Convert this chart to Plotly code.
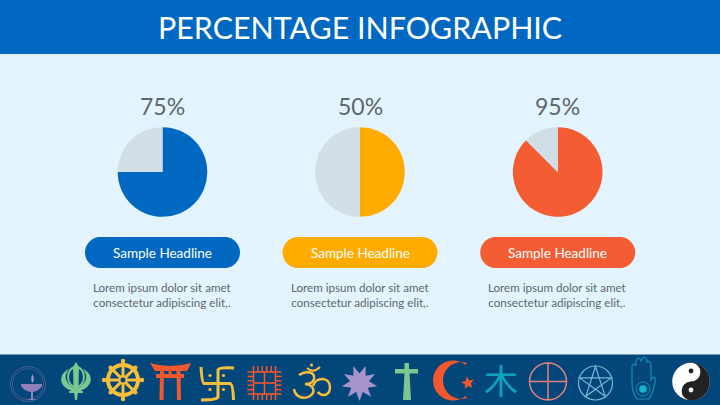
#!/usr/bin/env python
import math
import plotly.graph_objects as go

# chart data
pct_labels = ["75%", "50%", "95%"]
filled_values = [75, 50, 87.5]
rest_values = [25, 50, 12.5]
slice_colors = ["#0068C1", "#FFAB00", "#F45D33"]
headlines = ["Sample Headline", "Sample Headline", "Sample Headline"]
body_text = "Lorem ipsum dolor sit amet<br>consectetur adipiscing elit,."
title_text = "PERCENTAGE INFOGRAPHIC"

W, H = 720, 405
BG = "#E3F4FE"
HEADER = "#0068C1"
FOOTER = "#03477A"
GREY = "#D1DEE6"
TEXT = "#5E666C"
YELLOW = "#F6BE3B"
RED = "#F2572D"
GREEN = "#7CC68F"
PURPLE = "#A694CC"

column_x = [162.5, 360, 557.7]
PIE_Y, PIE_R = 172, 44.8

shapes = []


def rect(x0, y0, x1, y1, fill):
    shapes.append(dict(type="rect", x0=x0, y0=y0, x1=x1, y1=y1, fillcolor=fill,
                       line=dict(width=0), xref="x", yref="y", layer="below"))


def circle(cx, cy, r, fill=None, line=None, width=0):
    shapes.append(dict(type="circle", x0=cx - r, y0=cy - r, x1=cx + r, y1=cy + r,
                       fillcolor=fill or "rgba(0,0,0,0)",
                       line=dict(width=width, color=line or "rgba(0,0,0,0)"),
                       xref="x", yref="y", layer="below"))


def path(d, fill=None, line=None, width=0):
    shapes.append(dict(type="path", path=d, fillcolor=fill or "rgba(0,0,0,0)",
                       line=dict(width=width, color=line or "rgba(0,0,0,0)"),
                       xref="x", yref="y", layer="below"))


def poly(pts, close=True):
    d = "M " + " L ".join(f"{x:.2f},{y:.2f}" for x, y in pts)
    return d + (" Z" if close else "")


def arc_pts(cx, cy, r, start, end, step=6):
    n = max(2, int(abs(end - start) / step))
    return [(cx + r * math.cos(math.radians(start + (end - start) * i / n)),
             cy + r * math.sin(math.radians(start + (end - start) * i / n)))
            for i in range(n + 1)]


def star_pts(cx, cy, r_out, r_in, n, start):
    pts = []
    for i in range(n * 2):
        r = r_out if i % 2 == 0 else r_in
        a = math.radians(start + i * 180 / n)
        pts.append((cx + r * math.cos(a), cy + r * math.sin(a)))
    return pts


def pill(x0, y0, x1, y1, fill):
    r = (y1 - y0) / 2
    cy = (y0 + y1) / 2
    path(poly(arc_pts(x1 - r, cy, r, -90, 90) + arc_pts(x0 + r, cy, r, 90, 270)), fill=fill)


# page blocks
rect(0, 0, W, H, BG)
rect(0, 0, W, 54, HEADER)
rect(0, 354.5, W, H, FOOTER)

# headline pills
for cx, col in zip(column_x, slice_colors):
    pill(cx - 77.5, 237, cx + 77.5, 268, col)

# footer icons, left to right
# chalice
circle(28, 384, 17.5, line="#4F5F90", width=1)
circle(28, 384, 15.5, line="#4F5F90", width=0.8)
path("M 21,384 L 42,384 L 42,386 Q 39,391 33,392 L 33,399 L 38,400 L 26,400 L 31,399 L 31,392 "
     "Q 24,391 21,386 Z", fill="#8E80B8")
path("M 32.5,374 Q 35,380 32.5,383 Q 30,380 32.5,374 Z", fill="#A79BCB")

# khanda
path("M 69,369 C 58,374 59,386 70,390 L 76,394 L 82,390 C 93,386 94,374 83,369 "
     "C 89,376 87,384 76,389 C 65,384 63,376 69,369 Z", fill=GREEN)
shapes.append(dict(type="circle", x0=68, y0=367, x1=84, y1=387, fillcolor="rgba(0,0,0,0)",
                   line=dict(width=2, color=GREEN), xref="x", yref="y", layer="below"))
path("M 76,362 L 79,367 L 78.5,388 L 77,400 L 75,400 L 73.5,388 L 73,367 Z", fill=GREEN)
path("M 69,392 L 83,392", line=GREEN, width=2)

# dharma wheel
circle(123, 380, 15, line=YELLOW, width=4)
for i in range(8):
    a = math.radians(i * 45)
    r_end = 19 if i % 2 == 0 else 17.5
    path(poly([(123 + 4 * math.cos(a), 380 + 4 * math.sin(a)),
               (123 + r_end * math.cos(a), 380 + r_end * math.sin(a))], close=False),
         line=YELLOW, width=3)
    circle(123 + r_end * math.cos(a), 380 + r_end * math.sin(a), 2.2, fill=YELLOW)
circle(123, 380, 3.6, fill=FOOTER, line=YELLOW, width=2.2)

# torii
path("M 150,363 Q 170,369 191,363 L 187,371 L 155,371 Z", fill=RED)
path("M 156,374 L 184,374 L 184,378 L 156,378 Z", fill=RED)
path("M 160,371 L 164,371 L 163.5,400 L 159.5,400 Z", fill=RED)
path("M 176.5,371 L 180.5,371 L 181,400 L 177,400 Z", fill=RED)
path("M 168.5,370 L 171.5,370 L 171.5,375 L 168.5,375 Z", fill=RED)

# swastika with dots
path("M 201,367 Q 202,383 204,383.5 L 230,383.5 Q 233,384 233.5,400", line=YELLOW, width=3)
path("M 234,368 Q 219,367 218,370 L 218,397 Q 217,400 201,400", line=YELLOW, width=3)
for dx in (210, 223.5):
    for dy in (375.5, 389.5):
        circle(dx, dy, 1.6, fill=YELLOW)

# square comb symbol
c_x, c_y = 264.5, 383
for rot in range(4):
    a = math.radians(rot * 90)
    ca, sa = math.cos(a), math.sin(a)

    def turn(px, py):
        return (c_x + px * ca - py * sa, c_y + px * sa + py * ca)
    path(poly([turn(-11, -11), turn(11, -11)], close=False), line=RED, width=1.6)
    path(poly([turn(0, 0), turn(0, -11)], close=False), line=RED, width=1.6)
    for t in (-11, -6.6, -2.2, 2.2, 6.6, 11):
        path(poly([turn(t, -11), turn(t, -17)], close=False), line=RED, width=1.5)

# om
path("M 299,375 C 306,370 316,372 314,379 C 313,383 308,384 305,384 "
     "C 314,385 316,392 310,396 C 304,400 295,397 294,389", line=YELLOW, width=2.5)
path("M 313,386 C 316,376 330,377 330,387 C 330,396 322,397 318,392 L 319,394", line=YELLOW, width=2.5)
path("M 307,368 Q 313,374 320,367", line=YELLOW, width=2)
circle(311.5, 365, 1.6, fill=YELLOW)

# nine point star
path(poly(star_pts(359.5, 383, 18, 9.5, 9, -70)), fill=PURPLE)

# cross
path("M 404.5,363 L 409,363 L 409,369 L 418,369 L 418,373.5 L 409.5,373.5 L 411,400 L 403,400 "
     "L 404.5,373.5 L 395,373.5 L 395,369 L 404.5,369 Z", fill=GREEN)

# crescent and star
outer = arc_pts(453, 380.5, 20, -51, -309)
inner = arc_pts(461.4, 380.5, 18.4, 72, 288)
path(poly(outer + inner), fill=RED)
path(poly(star_pts(467.8, 383, 6.8, 3.0, 5, -100)), fill=RED)

# circle with cross
circle(548, 381.5, 18.5, line="#E88080", width=1.5)
path("M 529.5,381.5 L 566.5,381.5", line="#E88080", width=1.5)
path("M 548,363 L 548,400", line="#E88080", width=1.5)

# pentagram
PENT = "#7BB4D6"
circle(595.5, 383, 17, line=PENT, width=1.2)
star = star_pts(595.5, 383, 16.5, 16.5, 5, -90)[::2]
path(poly([star[0], star[2], star[4], star[1], star[3]]), line=PENT, width=1.2)

# jain hand
HAND = "#128FB0"
path("M 637,399 C 633,394 632,389 632,383 L 632,366 Q 634,362 636,366 L 636,361 Q 639,355 641,361 "
     "L 642,359 Q 645,355 647,360 L 647,362 Q 650,360 651,365 L 651,380 L 653,377 Q 656,377 655,382 "
     "C 654,390 652,394 649,399 Z", line=HAND, width=1.2)
circle(643, 389, 7, line=HAND, width=1)
circle(643, 389, 3.8, fill="#12B5D0")

# yin yang
circle(691, 381.5, 18.8, fill="white")
path(poly(arc_pts(691, 381.5, 18.8, -90, 90)), fill="#222222")
circle(691, 372.1, 9.4, fill="white")
circle(691, 390.9, 9.4, fill="#222222")
circle(691, 371, 2.4, fill="#222222")
circle(691, 390, 2.4, fill="white")

fig = go.Figure()

# empty trace so the pixel axes exist
fig.add_trace(go.Scatter(x=[None], y=[None], showlegend=False, hoverinfo="skip"))

for cx, filled, rest, col in zip(column_x, filled_values, rest_values, slice_colors):
    fig.add_trace(go.Pie(
        values=[filled, rest],
        labels=["filled", "rest"],
        marker=dict(colors=[col, GREY], line=dict(width=0)),
        sort=False,
        direction="clockwise",
        rotation=0,
        textinfo="none",
        showlegend=False,
        domain=dict(x=[(cx - PIE_R) / W, (cx + PIE_R) / W],
                    y=[1 - (PIE_Y + PIE_R) / H, 1 - (PIE_Y - PIE_R) / H]),
    ))

annotations = [dict(x=360, y=27, text=title_text,
                    font=dict(family="Lato", size=30.4, color="white"))]
for cx, pct, head in zip(column_x, pct_labels, headlines):
    annotations.append(dict(x=cx, y=106, text=pct, font=dict(family="Lato", size=23, color=TEXT)))
    annotations.append(dict(x=cx, y=252.5, text=head, font=dict(family="Lato", size=13.5, color="white")))
    annotations.append(dict(x=cx, y=295, text=body_text, align="center",
                            font=dict(family="Lato", size=11.6, color=TEXT)))
annotations.append(dict(x=501, y=379.5, text="木",
                        font=dict(family="Noto Sans CJK JP", size=34, color="#0CA3BD")))
for a in annotations:
    a.update(xref="x", yref="y", showarrow=False, xanchor="center", yanchor="middle")

fig.update_layout(
    width=W, height=H,
    margin=dict(l=0, r=0, t=0, b=0),
    paper_bgcolor=BG,
    plot_bgcolor=BG,
    xaxis=dict(range=[0, W], visible=False, fixedrange=True),
    yaxis=dict(range=[H, 0], visible=False, fixedrange=True),
    shapes=shapes,
    annotations=annotations,
)

# drop the page's default margin so the figure sits at the window corner
fig.write_html("out.html", config={"displayModeBar": False},
               post_script="document.body.style.margin='0';")
